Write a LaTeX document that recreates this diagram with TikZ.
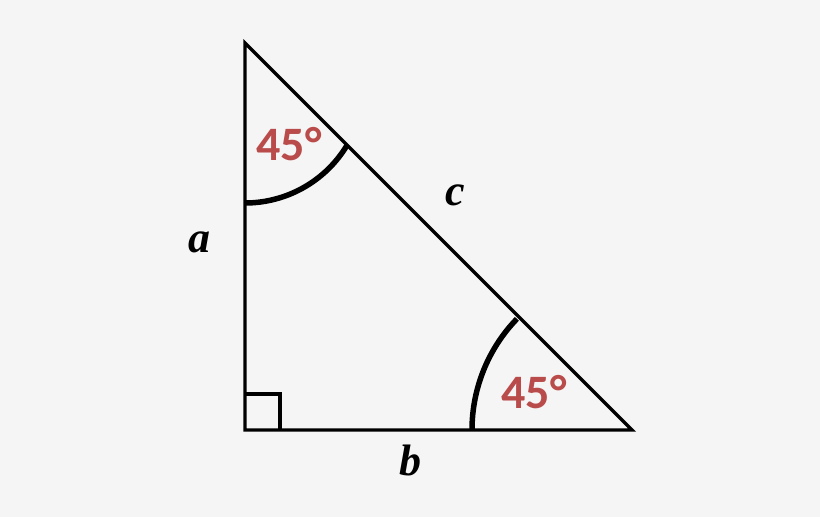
\documentclass[tikz,border=0pt]{standalone}
\usepackage{fontspec}
\setmainfont{Liberation Serif}
\newfontfamily\anglefont{Carlito}
\usetikzlibrary{positioning}
\definecolor{anglered}{HTML}{B94B4B}
\definecolor{bggray}{HTML}{F5F5F5}

\begin{document}
\begin{tikzpicture}[
    x=1pt,y=1pt,
    side/.style={line width=3.4pt,line join=miter},
    anglearc/.style={line width=5.5pt},
    anglelabel/.style={inner sep=0pt,text=anglered,font=\anglefont\bfseries\fontsize{48}{48}\selectfont},
    sidelabel/.style={inner sep=0pt,font=\bfseries\itshape\fontsize{44}{44}\selectfont}
    ]

    \fill[bggray] (0,0) rectangle (820,517);
    \useasboundingbox (0,0) rectangle (820,517);

    \coordinate (top) at (245,474);
    \coordinate (corner) at (245,87);
    \coordinate (right) at (632,87);

    \draw[side] (top) -- (corner) -- (right) -- cycle;
    \draw[line width=3.4pt] ([yshift=36pt]corner) -| ([xshift=35pt]corner);

    \draw[anglearc] ([yshift=-160pt]top) arc[start angle=-90,end angle=-31,radius=119pt];
    \draw[anglearc] ([xshift=-160pt]right) arc[start angle=180,end angle=136,radius=160pt];

    \node[anglelabel] (angtop) at (289,373) {45°};
    \node[anglelabel] (angright) at (534,125) {45°};

    \node[sidelabel] (sidea) at (199,275) {a};
    \node[sidelabel] (sideb) at (410,57) {b};
    \node[sidelabel] (sidec) at (455,322) {c};

  \end{tikzpicture}
\end{document}
